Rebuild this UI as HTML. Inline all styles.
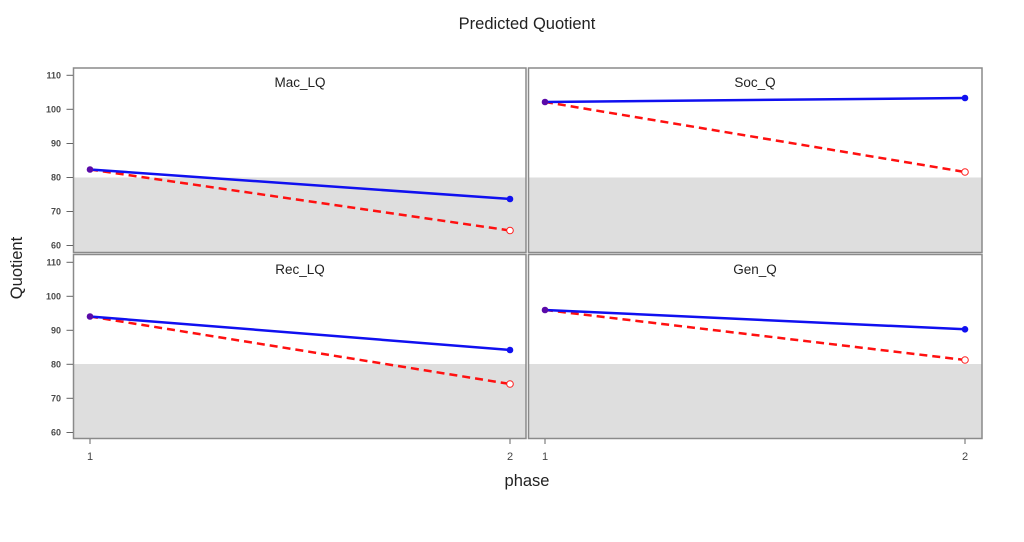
<!DOCTYPE html>
<html><head><meta charset="utf-8"><style>
html,body{margin:0;padding:0;background:#fff;}
svg{display:block;}
text{font-family:"Liberation Sans",Arial,sans-serif;}
</style></head><body>
<svg width="1024" height="542" viewBox="0 0 1024 542" xmlns="http://www.w3.org/2000/svg">
<rect width="1024" height="542" fill="#fff"/>
<text x="527" y="29" font-size="16.5" fill="#222" text-anchor="middle">Predicted Quotient</text>
<text transform="translate(22,268) rotate(-90)" font-size="16.5" fill="#222" text-anchor="middle">Quotient</text>
<text x="527" y="486" font-size="16.5" fill="#222" text-anchor="middle">phase</text>

<!-- gray bands -->
<rect x="74" y="177.5" width="451.5" height="75" fill="#dedede"/>
<rect x="529" y="177.5" width="452.5" height="75" fill="#dedede"/>
<rect x="74" y="364" width="451.5" height="74.5" fill="#dedede"/>
<rect x="529" y="364" width="452.5" height="74.5" fill="#dedede"/>

<!-- panel borders -->
<g fill="none" stroke="#8a8a8a" stroke-width="1.5">
<rect x="73.5" y="68" width="452.5" height="184.5"/>
<rect x="528.5" y="68" width="453.5" height="184.5"/>
<rect x="73.5" y="254.5" width="452.5" height="184"/>
<rect x="528.5" y="254.5" width="453.5" height="184"/>
</g>

<!-- strip labels -->
<g font-size="13.5" fill="#222" text-anchor="middle">
<text x="300" y="87">Mac_LQ</text>
<text x="755" y="87">Soc_Q</text>
<text x="300" y="274">Rec_LQ</text>
<text x="755" y="274">Gen_Q</text>
</g>

<!-- y ticks -->
<g stroke="#666" stroke-width="1">
<line x1="66.5" y1="75.3" x2="73" y2="75.3"/>
<line x1="66.5" y1="109.3" x2="73" y2="109.3"/>
<line x1="66.5" y1="143.5" x2="73" y2="143.5"/>
<line x1="66.5" y1="177.5" x2="73" y2="177.5"/>
<line x1="66.5" y1="211.5" x2="73" y2="211.5"/>
<line x1="66.5" y1="245.5" x2="73" y2="245.5"/>
<line x1="66.5" y1="262.3" x2="73" y2="262.3"/>
<line x1="66.5" y1="296.3" x2="73" y2="296.3"/>
<line x1="66.5" y1="330.3" x2="73" y2="330.3"/>
<line x1="66.5" y1="364.3" x2="73" y2="364.3"/>
<line x1="66.5" y1="398.3" x2="73" y2="398.3"/>
<line x1="66.5" y1="432.5" x2="73" y2="432.5"/>
<line x1="90" y1="439" x2="90" y2="444"/>
<line x1="510" y1="439" x2="510" y2="444"/>
<line x1="545" y1="439" x2="545" y2="444"/>
<line x1="965" y1="439" x2="965" y2="444"/>
</g>
<g font-size="9" fill="#4a4a4a" text-anchor="end" font-weight="bold">
<text x="61" y="78.5">110</text>
<text x="61" y="112.5">100</text>
<text x="61" y="146.5">90</text>
<text x="61" y="180.5">80</text>
<text x="61" y="214.5">70</text>
<text x="61" y="248.5">60</text>
<text x="61" y="265.5">110</text>
<text x="61" y="299.5">100</text>
<text x="61" y="333.5">90</text>
<text x="61" y="367.5">80</text>
<text x="61" y="401.5">70</text>
<text x="61" y="435.5">60</text>
</g>
<g font-size="11" fill="#444" text-anchor="middle">
<text x="90" y="460">1</text>
<text x="510" y="460">2</text>
<text x="545" y="460">1</text>
<text x="965" y="460">2</text>
</g>

<!-- series -->
<g stroke-width="2.5" fill="none">
<line x1="90" y1="169.5" x2="510" y2="230.5" stroke="#ff1010" stroke-dasharray="8,5"/>
<line x1="90" y1="169.5" x2="510" y2="199" stroke="#1010f0"/>
<line x1="545" y1="102" x2="965" y2="172" stroke="#ff1010" stroke-dasharray="8,5"/>
<line x1="545" y1="102" x2="965" y2="98" stroke="#1010f0"/>
<line x1="90" y1="316.5" x2="510" y2="384" stroke="#ff1010" stroke-dasharray="8,5"/>
<line x1="90" y1="316.5" x2="510" y2="350" stroke="#1010f0"/>
<line x1="545" y1="310" x2="965" y2="360" stroke="#ff1010" stroke-dasharray="8,5"/>
<line x1="545" y1="310" x2="965" y2="329.3" stroke="#1010f0"/>
</g>
<g fill="#1010f0">
<circle cx="510" cy="199" r="3.3"/>
<circle cx="965" cy="98" r="3.3"/>
<circle cx="510" cy="350" r="3.3"/>
<circle cx="965" cy="329.3" r="3.3"/>
</g>
<g fill="#5a0aa8">
<circle cx="90" cy="169.5" r="3.3"/>
<circle cx="545" cy="102" r="3.3"/>
<circle cx="90" cy="316.5" r="3.3"/>
<circle cx="545" cy="310" r="3.3"/>
</g>
<g fill="#fff" stroke="#ff2020" stroke-width="1">
<circle cx="510" cy="230.5" r="3.3"/>
<circle cx="965" cy="172" r="3.3"/>
<circle cx="510" cy="384" r="3.3"/>
<circle cx="965" cy="360" r="3.3"/>
</g>
</svg>
</body></html>
